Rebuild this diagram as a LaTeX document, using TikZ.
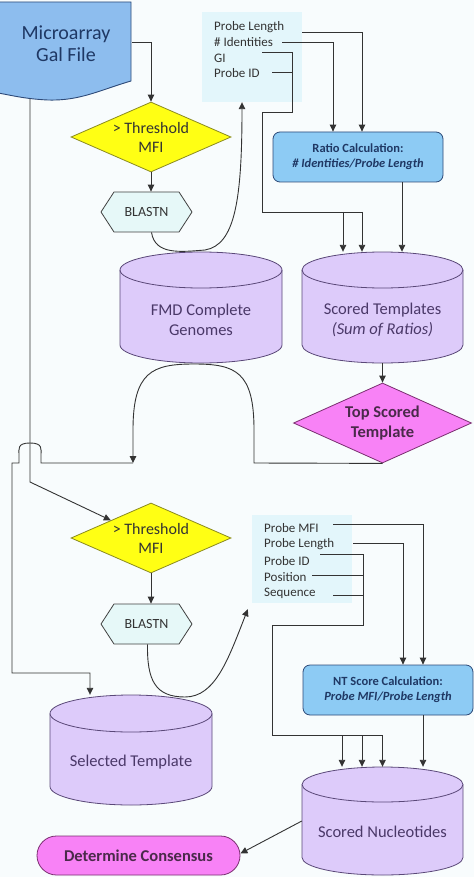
\documentclass[tikz,border=0pt]{standalone}
\usepackage{fontspec}
\setmainfont{Carlito}
\usepackage{xcolor}
\usepackage{tikz}
\usetikzlibrary{
	shapes.geometric,shapes.misc,shapes.symbols,arrows.meta
}
\definecolor{paper}{HTML}{F8FCFD}
\definecolor{galblue}{HTML}{8DBDEE}
\definecolor{galline}{HTML}{2E4A78}
\definecolor{navytext}{HTML}{1F3864}
\definecolor{threshyellow}{HTML}{FFFF14}
\definecolor{threshline}{HTML}{8A8A20}
\definecolor{hexfill}{HTML}{E6F8F8}
\definecolor{listfill}{HTML}{E3F6FB}
\definecolor{calcblue}{HTML}{8DCBF4}
\definecolor{cylfill}{HTML}{DDCBFA}
\definecolor{cylline}{HTML}{5A4878}
\definecolor{cyltext}{HTML}{4A3868}
\definecolor{topfill}{HTML}{F882F6}
\definecolor{topline}{HTML}{7A2E70}
\definecolor{toptext}{HTML}{4A2A4A}
\definecolor{wire}{HTML}{333333}
% drum: name, left, right, top, bottom, cap half-height
\newcommand{\dbdrum}[6]{%
	\pgfmathsetmacro{\drumrx}{(#3-#2)/2}%
	\draw[drum] (#2,-#4-#6) -- (#2,-#5+#6) arc[start angle=180,end angle=360,x radius=\drumrx pt,y radius=#6 pt] -- (#3,-#4-#6) arc[start angle=0,end angle=180,x radius=\drumrx pt,y radius=#6 pt] -- cycle;
	\draw[drum,fill=none] (#2,-#4-#6) arc[start angle=180,end angle=360,x radius=\drumrx pt,y radius=#6 pt];
	\node[inner sep=0,minimum width={(#3-#2)*1pt},minimum height={(#5-#4)*1pt}] (#1) at ({(#2+#3)/2},{-(#4+#5)/2}) {};
}
\tikzset{
	wire/.style={draw=wire,line width=0.9pt},
	arr/.style={wire,-{Triangle[length=7pt,width=6.5pt]}},
	thresh/.style={diamond,aspect=2.3,draw=threshline,fill=threshyellow,line width=0.8pt,minimum width=160pt,minimum height=70pt,inner sep=0,align=center,font=\fontsize{16}{19}\selectfont,text=black!80},
	blast/.style={signal,signal to=east and west,signal pointer angle=114,draw=black!75,fill=hexfill,line width=0.8pt,minimum width=91pt,minimum height=40pt,inner sep=0,font=\fontsize{14}{16}\selectfont,text=black!80},
	listbox/.style={fill=listfill,inner sep=0,minimum width=100pt},
	listtext/.style={anchor=west,inner sep=0,font=\fontsize{13}{16}\selectfont,text=black!80},
	calcbox/.style={rectangle,rounded corners=7pt,draw=galline,fill=calcblue,line width=0.8pt,minimum width=170pt,minimum height=50pt,inner sep=0,align=center,font=\bfseries\fontsize{12.5}{15}\selectfont,text=navytext},
	drum/.style={draw=cylline,fill=cylfill,line width=0.8pt},
	drumlabel/.style={align=center,inner sep=0,font=\fontsize{16.5}{20}\selectfont,text=cyltext},
	toptpl/.style={diamond,aspect=2.2,draw=topline,fill=topfill,line width=0.8pt,minimum width=178pt,minimum height=80pt,inner sep=0,align=center,font=\bfseries\fontsize{16.5}{20}\selectfont,text=toptext},
	consensus/.style={rounded rectangle,draw=topline,fill=topfill,line width=0.8pt,minimum width=203pt,minimum height=39pt,inner sep=0,font=\bfseries\fontsize{16.5}{20}\selectfont,text=toptext}
}
\begin{document}
\begin{tikzpicture}[x=1pt,y=1pt]
	\fill[paper] (0,0) rectangle (474,-877);
	\useasboundingbox (0,0) rectangle (474,-877);
	%
	%  UPPER HALF
	%
	\draw[draw=galline,fill=galblue,line width=0.9pt] (-2,-2) -- (131,-2) -- (131,-81) .. controls (100,-90) and (80,-101) .. (48,-100) .. controls (25,-99) and (10,-95) .. (-2,-93) -- cycle;
	\node[inner sep=0,minimum width=133pt,minimum height=80pt] (GAL) at (65.5,-42) {};
	\node[align=center,inner sep=0,font=\fontsize{20}{22}\selectfont,text=navytext] (GALt) at (66,-44) {Microarray\\Gal File};
	\coordinate (gb) at (30,-99);
	\node[thresh] (TH1) at (151,-137) {> Threshold\\MFI};
	\node[blast] (BL1) at (146.5,-212) {BLASTN};
	\node[listbox,minimum height=90pt] (PL1) at (252,-57) {};
	\node[listtext] (PL1a) at (214,-27) {Probe Length};
	\node[listtext] (PL1b) at (214,-42) {\# Identities};
	\node[listtext] (PL1c) at (214,-58) {GI};
	\node[listtext] (PL1d) at (214,-73) {Probe ID};
	\node[calcbox] (RC) at (358,-157) {Ratio Calculation:\\\textit{\# Identities/Probe Length}};
	\dbdrum{FMD}{120}{282}{252}{363}{18}
	\node[drumlabel] (FMDt) at (201,-320) {FMD Complete\\Genomes};
	\dbdrum{STM}{302}{463}{252}{363}{18}
	\node[drumlabel] (STMt) at (382.5,-320) {Scored Templates\\\textit{(Sum of Ratios)}};
	\node[toptpl] (TS) at (382.5,-423) {Top Scored\\Template};
	\coordinate (jn) at (133,-463);
	%
	%  LOWER HALF
	%
	\node[thresh] (TH2) at (151,-538) {> Threshold\\MFI};
	\node[blast] (BL2) at (146.5,-624) {BLASTN};
	\node[listbox,minimum height=88pt] (PL2) at (302,-559) {};
	\node[listtext] (PL2a) at (264,-528) {Probe MFI};
	\node[listtext] (PL2b) at (264,-544) {Probe Length};
	\node[listtext] (PL2c) at (264,-561) {Probe ID};
	\node[listtext] (PL2d) at (264,-577) {Position};
	\node[listtext] (PL2e) at (264,-593) {Sequence};
	\node[calcbox] (NTC) at (388,-690) {NT Score Calculation:\\\textit{Probe MFI/Probe Length}};
	\dbdrum{SEL}{50}{212}{695}{805}{18.5}
	\node[drumlabel] (SELt) at (131,-762) {Selected Template};
	\dbdrum{SNU}{302}{463}{767}{875}{17.5}
	\node[drumlabel] (SNUt) at (382.5,-832) {Scored Nucleotides};
	\node[consensus] (DC) at (138.5,-855.5) {Determine Consensus};
	%
	%  CONNECTORS
	%
	\draw[arr] (GAL.east) -| (TH1.north);
	\draw[arr] (TH1.south) -- (TH1.south |- BL1.north);
	\draw[arr] ([xshift=5pt]BL1.south) .. controls (155,-255) and (180,-252) .. (205,-250) .. controls (235,-245) and (242,-200) .. ([xshift=-10pt]PL1.south);
	\draw[arr] (302,-32) -| ([xshift=4pt]RC.north);
	\draw[arr] (282,-42) -| ([xshift=-25pt]RC.north);
	\draw[wire] (262,-52) -- (292,-52);
	\draw[wire] (272,-72) -- (292,-72);
	\draw[wire] (292,-52) -- (292,-112) -- (262,-112) -- (262,-212) -- (362,-212);
	\draw[arr] (343,-212) -- ([xshift=-39.5pt]STM.north);
	\draw[arr] (362,-212) -- ([xshift=-20.5pt]STM.north);
	\draw[arr] ([xshift=44pt]RC.south) -- ([xshift=19.5pt]STM.north);
	\draw[arr] (STM.south) -- (TS.north);
	\draw[arr] (TS.south) -- (254,-463) -- (254,-430) .. controls (254,-372) and (236,-364) .. (194,-364) .. controls (152,-364) and (133,-372) .. (133,-430) -- (jn);
	\draw[arr] (jn) -- (41,-463) -- (41,-455) .. controls (41,-449) and (43,-443) .. (30,-443) .. controls (17,-443) and (19,-449) .. (19,-455) -- (19,-463) -- (12,-463) -- (12,-673) -| ([xshift=-41pt]SEL.north);
	\draw[arr] (gb) -- (30,-482) -- (TH2.north west);
	\draw[arr] (TH2.south) -- (TH2.south |- BL2.north);
	\draw[arr] ([xshift=1pt]BL2.south) .. controls (147,-680) and (155,-697) .. (185,-697) .. controls (215,-697) and (228,-660) .. ([shift={(-4pt,-6pt)}]PL2.south west);
	\draw[arr] (333,-524) -| ([xshift=35pt]NTC.north);
	\draw[arr] (353,-543) -| ([xshift=15pt]NTC.north);
	\draw[wire] (320,-554) -- (363,-554);
	\draw[wire] (312,-575) -- (363,-575);
	\draw[wire] (333,-595) -- (363,-595);
	\draw[wire] (363,-554) -- (363,-625) -- (272,-625) -- (272,-735) -- (383,-735);
	\draw[arr] (342,-735) -- ([xshift=-40.5pt]SNU.north);
	\draw[arr] (362,-735) -- ([xshift=-20.5pt]SNU.north);
	\draw[arr] (382.5,-735) -- (SNU.north);
	\draw[arr] ([xshift=35pt]NTC.south) -- ([xshift=40.5pt]SNU.north);
	\draw[arr] (SNU.west) -- ([yshift=2pt]DC.east);
\end{tikzpicture}
\end{document}
